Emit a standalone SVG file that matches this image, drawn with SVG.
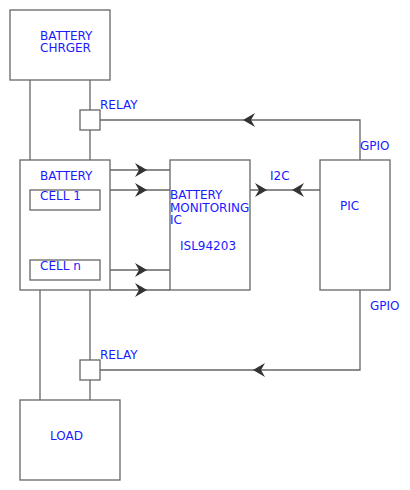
<svg xmlns="http://www.w3.org/2000/svg" xmlns:xlink="http://www.w3.org/1999/xlink" width="410" height="490" viewBox="0 0 410 490">
<style>
.box{fill:#fff;stroke:#666;stroke-width:1.3}
.ln{fill:none;stroke:#666;stroke-width:1.3}
text{font-family:"DejaVu Sans",sans-serif;font-size:12px;fill:#1a1aff}
.ah{fill:#333}
</style>
<defs>
<path id="arr" d="M0,0 L-12,-7 L-8,0 L-12,7 Z"/>
</defs>
<rect x="0" y="0" width="410" height="490" fill="#fff"/>
<g id="connectors">
<path class="ln" d="M30,80 V160"/>
<path class="ln" d="M90,80 V110"/>
<path class="ln" d="M90,130 V160"/>
<path class="ln" d="M100,120 H360 V160"/>
<path class="ln" d="M110,170 H170"/>
<path class="ln" d="M110,190 H170"/>
<path class="ln" d="M110,270 H170"/>
<path class="ln" d="M110,290 H170"/>
<path class="ln" d="M250,190 H320"/>
<path class="ln" d="M360,290 V370 H100"/>
<path class="ln" d="M90,290 V360"/>
<path class="ln" d="M90,380 V400"/>
<path class="ln" d="M40,290 V400"/>
<use href="#arr" class="ah" transform="translate(243,120) rotate(180)"/>
<use href="#arr" class="ah" transform="translate(147,170)"/>
<use href="#arr" class="ah" transform="translate(147,190)"/>
<use href="#arr" class="ah" transform="translate(147,270)"/>
<use href="#arr" class="ah" transform="translate(147,290)"/>
<use href="#arr" class="ah" transform="translate(267,190)"/>
<use href="#arr" class="ah" transform="translate(292,190) rotate(180)"/>
<use href="#arr" class="ah" transform="translate(253,370) rotate(180)"/>
</g>
<g id="charger">
<rect class="box" x="10" y="10" width="100" height="70"/>
<text x="40" y="40">BATTERY</text>
<text x="40" y="52">CHRGER</text>
</g>
<g id="relay1">
<rect class="box" x="80" y="110" width="20" height="20"/>
<text x="100" y="109">RELAY</text>
</g>
<g id="battery">
<rect class="box" x="20" y="160" width="90" height="130"/>
<text x="40" y="180">BATTERY</text>
</g>
<g id="cell1">
<rect class="box" x="30" y="190" width="70" height="20"/>
<text x="40" y="200">CELL 1</text>
</g>
<g id="celln">
<rect class="box" x="30" y="260" width="70" height="20"/>
<text x="40" y="270">CELL n</text>
</g>
<g id="bmic">
<rect class="box" x="170" y="160" width="80" height="130" fill="none"/>
<text x="170" y="199">BATTERY</text>
<text x="170" y="212">MONITORING</text>
<text x="170" y="224">IC</text>
<text x="180" y="250">ISL94203</text>
</g>
<g id="i2c"><text x="270" y="180">I2C</text></g>
<g id="pic">
<rect class="box" x="320" y="160" width="70" height="130"/>
<text x="340" y="210">PIC</text>
</g>
<g id="gpio-labels">
<text x="360" y="150">GPIO</text>
<text x="370" y="310">GPIO</text>
</g>
<g id="relay2">
<rect class="box" x="80" y="360" width="20" height="20"/>
<text x="100" y="359">RELAY</text>
</g>
<g id="load">
<rect class="box" x="20" y="400" width="100" height="80"/>
<text x="50" y="440">LOAD</text>
</g>
</svg>
